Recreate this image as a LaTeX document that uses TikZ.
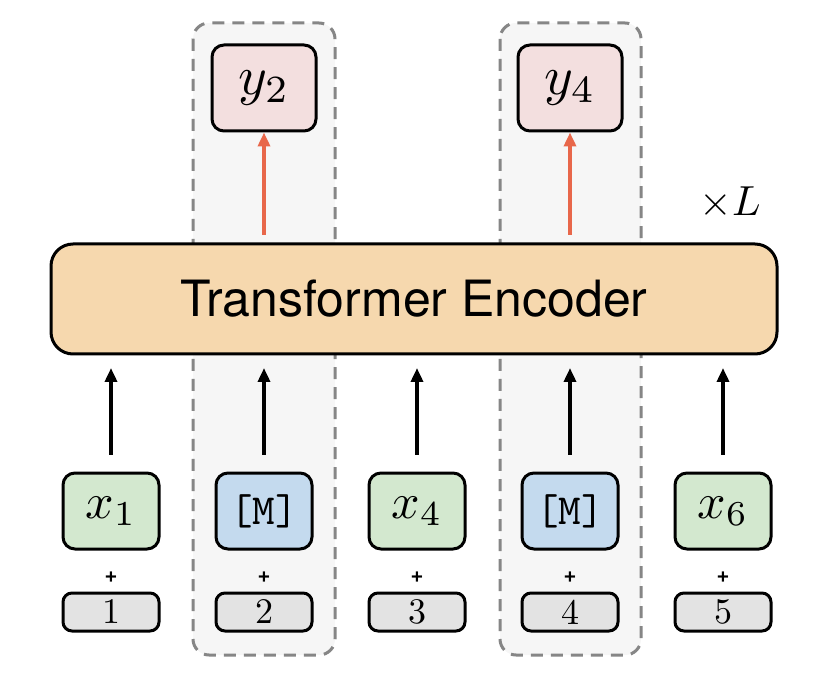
\documentclass[tikz,border=0pt]{standalone}
\usepackage{fontspec}
\newfontfamily\heros{TeX Gyre Heros}
\usetikzlibrary{arrows.meta}
\definecolor{tokg}{HTML}{D3E8CF}
\definecolor{tokb}{HTML}{C4DAEE}
\definecolor{outp}{HTML}{F3DFDF}
\definecolor{posg}{HTML}{E3E3E3}
\definecolor{encc}{HTML}{F6D8AE}
\definecolor{redar}{HTML}{E8674A}
\definecolor{shade}{HTML}{F6F6F6}
\begin{document}
\begin{tikzpicture}[x=1pt,y=-1pt,
 tok/.style={draw,line width=3pt,rounded corners=12pt,minimum width=96pt,minimum height=76pt,inner sep=0pt},
 posbox/.style={draw,line width=3pt,rounded corners=9pt,fill=posg,minimum width=96pt,minimum height=38pt,inner sep=0pt},
 outb/.style={draw,line width=3pt,rounded corners=12pt,fill=outp,minimum width=104pt,minimum height=86pt,inner sep=0pt},
 reg/.style={draw=gray!95,dashed,dash pattern=on 12pt off 8pt,line width=3pt,rounded corners=16pt,fill=shade},
 up/.style={-{Triangle[length=14pt,width=12pt]},line width=3.5pt},
 plus/.style={font=\heros\bfseries,inner sep=0pt}]
\useasboundingbox (0,0) rectangle (828,676);
\draw[reg] (193,23) rectangle (335,655);
\draw[reg] (500,23) rectangle (641,655);
\node[draw,line width=3pt,rounded corners=22pt,fill=encc,minimum width=726pt,minimum height=110pt,font=\heros\fontsize{50}{50}\selectfont] (enc) at (414,299) {Transformer Encoder};
\node (L) at (730,203) {\scalebox{4.2}{$\times L$}};
\foreach \i/\x/\c/\t in {1/111/tokg/{\scalebox{5}{$x_1$}},2/264/tokb/{\scalebox{4.3}{\texttt{[M]}}},3/417/tokg/{\scalebox{5}{$x_4$}},4/570/tokb/{\scalebox{4.3}{\texttt{[M]}}},5/723/tokg/{\scalebox{5}{$x_6$}}}{
 \node[tok,fill=\c] (t\i) at (\x,511) {\t};
 \node[posbox] (p\i) at (\x,612) {\scalebox{3.6}{\i}};
 \node[plus] (s\i) at (\x,577) {\scalebox{2.2}{+}};
 \coordinate (b\i) at (\x,455);
 \coordinate (e\i) at (\x,368);
 \draw[up] (b\i) -- (e\i);
}
\node[outb] (y2) at (264,88) {\scalebox{5.5}{$y_2$}};
\node[outb] (y4) at (570,88) {\scalebox{5.5}{$y_4$}};
\coordinate (r2) at (264,235); \coordinate (r4) at (570,235);
\draw[up,redar] (r2) -- (y2.south);
\draw[up,redar] (r4) -- (y4.south);
\end{tikzpicture}
\end{document}
